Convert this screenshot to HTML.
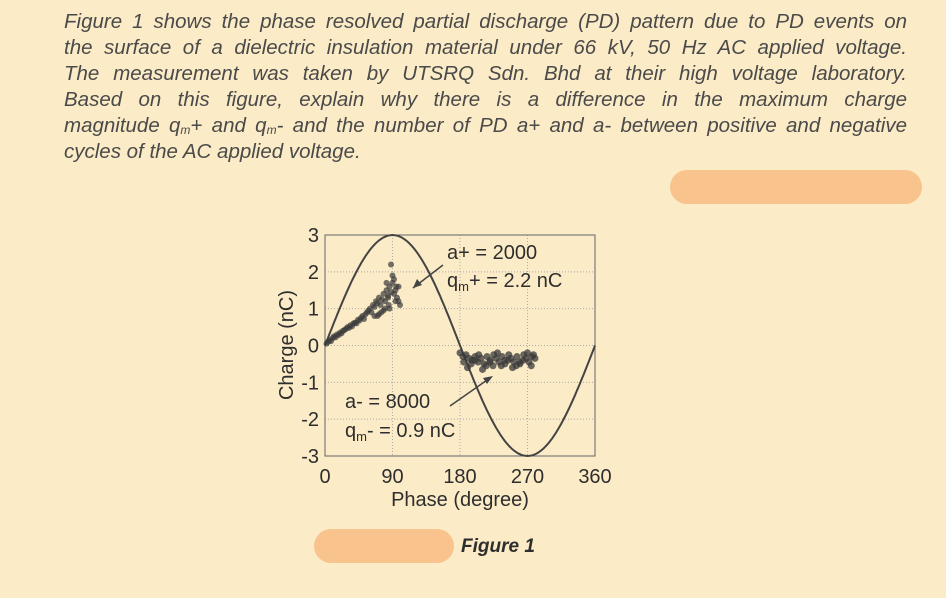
<!DOCTYPE html>
<html><head><meta charset="utf-8"><style>
body{margin:0;width:946px;height:598px;background:#fbebc6;overflow:hidden;position:relative;font-family:"Liberation Sans",sans-serif}
#q{position:absolute;left:64px;top:9px;width:843px;font-style:italic;font-size:20.5px;line-height:26px;color:#4a4a4a}
#q div{text-align:justify;text-align-last:justify;height:26px;white-space:nowrap}
#q div.last{text-align-last:left}
#q sub{font-size:12px;line-height:0;position:relative;top:2px;vertical-align:baseline}
.blob{position:absolute;background:#f8c38c;border-radius:18px}
svg{position:absolute;left:0;top:0}
</style></head><body>
<div id="q">
<div>Figure 1 shows the phase resolved partial discharge (PD) pattern due to PD events on</div>
<div>the surface of a dielectric insulation material under 66 kV, 50 Hz AC applied voltage.</div>
<div>The measurement was taken by UTSRQ Sdn. Bhd at their high voltage laboratory.</div>
<div>Based on this figure, explain why there is a difference in the maximum charge</div>
<div>magnitude q<sub>m</sub>+ and q<sub>m</sub>- and the number of PD a+ and a- between positive and negative</div>
<div class="last">cycles of the AC applied voltage.</div>
</div>
<div class="blob" style="left:670px;top:170px;width:252px;height:34px"></div>
<div class="blob" style="left:314px;top:529px;width:140px;height:34px"></div>
<svg id="c" width="946" height="598" font-family="Liberation Sans, sans-serif" fill="#2e2e2e"></svg>
<script>
const xTicks=[0,90,180,270,360];
const yTicks=[-3,-2,-1,0,1,2,3];
const posPhase=[2,4,6,8,10,12,14,16,18,20,22,24,26,28,30,32,34,36,38,40,42,44,46,48,50,52,54,56,58,60,62,64,66,68,70,72,74,76,78,80,82,84,86,88,90,92,94,96,98,100,70,75,80,85,90,95,88,92,84,78,72,66,82,86,94,98];
const posCharge=[0.05,0.1,0.15,0.12,0.2,0.25,0.22,0.3,0.28,0.35,0.33,0.4,0.42,0.45,0.5,0.48,0.55,0.52,0.6,0.62,0.6,0.7,0.68,0.75,0.8,0.72,0.85,0.9,0.95,1.0,0.9,1.1,1.05,1.2,1.15,1.3,1.1,1.25,1.4,1.2,1.5,1.3,1.6,1.45,1.7,1.4,1.5,1.3,1.2,1.1,0.8,0.9,1.0,1.1,1.9,1.6,2.2,1.8,1.35,0.95,0.85,0.8,1.7,1.0,1.2,1.6];
const negPhase=[180,184,188,192,196,200,204,208,212,216,220,224,228,232,236,240,244,248,252,256,260,264,268,272,276,280,185,195,205,215,225,235,245,255,265,275,190,210,230,250,270,200,220,240,260,278];
const negCharge=[-0.2,-0.3,-0.25,-0.35,-0.4,-0.3,-0.45,-0.35,-0.5,-0.3,-0.4,-0.55,-0.35,-0.45,-0.3,-0.5,-0.4,-0.35,-0.45,-0.3,-0.5,-0.4,-0.35,-0.45,-0.3,-0.35,-0.45,-0.5,-0.25,-0.55,-0.25,-0.55,-0.25,-0.55,-0.25,-0.55,-0.6,-0.65,-0.2,-0.6,-0.2,-0.4,-0.45,-0.4,-0.45,-0.25];
const X0=325,X1=595,YT=235,YB=456;
const sx=p=>X0+(p/360)*(X1-X0), sy=v=>YB-((v+3)/6)*(YB-YT);
const svg=document.getElementById('c'),NS='http://www.w3.org/2000/svg';
function mk(t,a,p){const e=document.createElementNS(NS,t);for(const k in a)e.setAttribute(k,a[k]);(p||svg).appendChild(e);return e;}
const grid=mk('g',{});


xTicks.forEach(t=>{if(t>0&&t<360)mk('line',{x1:sx(t),x2:sx(t),y1:YT,y2:YB,stroke:'#aaa','stroke-dasharray':'1,2'},grid);
 const l=mk('text',{x:sx(t),y:YB+27,'text-anchor':'middle','font-size':20});l.textContent=t;
 
 });
yTicks.forEach(t=>{if(t>-3&&t<3)mk('line',{x1:X0,x2:X1,y1:sy(t),y2:sy(t),stroke:'#aaa','stroke-dasharray':'1,2'},grid);
 const l=mk('text',{x:X0-6,y:sy(t)+7,'text-anchor':'end','font-size':20});l.textContent=t;
 
 });
const fr=mk('rect',{x:X0,y:YT,width:X1-X0,height:YB-YT,fill:'none',stroke:'#666'});


let d='';for(let p=0;p<=360;p+=3)d+=(p?'L':'M')+sx(p).toFixed(1)+','+sy(3*Math.sin(p*Math.PI/180)).toFixed(1);
const sine=mk('path',{d,fill:'none',stroke:'#444','stroke-width':2});


posPhase.forEach((p,i)=>{const c=mk('circle',{cx:sx(p),cy:sy(posCharge[i]),r:3,fill:'#3a3a3a','fill-opacity':0.7});
 
 });
negPhase.forEach((p,i)=>{const c=mk('circle',{cx:sx(p),cy:sy(negCharge[i]),r:3.5,fill:'#3a3a3a','fill-opacity':0.75});
 
 });
function txt(x,y,s,n,fs){const t=mk('text',{x,y,'font-size':fs||20});t.innerHTML=s;return t;}
txt(447,259,'a+ = 2000','annotation-a-plus');
txt(447,287,'q<tspan font-size="13" dy="4">m</tspan><tspan dy="-4">+ = 2.2 nC</tspan>','annotation-qm-plus');
txt(345,408,'a- = 8000','annotation-a-minus');
txt(345,437,'q<tspan font-size="13" dy="4">m</tspan><tspan dy="-4">- = 0.9 nC</tspan>','annotation-qm-minus');
mk('line',{x1:443,y1:265,x2:413,y2:288,stroke:'#444','stroke-width':1.5});
mk('path',{d:'M413,288 l4,-9 l5,6 z',fill:'#444'});
mk('line',{x1:450,y1:406,x2:490,y2:378,stroke:'#444','stroke-width':1.5});
mk('path',{d:'M493,376 l-10,2 l4,6 z',fill:'#444'});
const xl=txt(460,506,'Phase (degree)','x-axis-title');xl.setAttribute('text-anchor','middle');
const yl=txt(0,0,'Charge (nC)','y-axis-title');yl.setAttribute('text-anchor','middle');yl.setAttribute('transform','translate(293,345) rotate(-90)');
const fc=txt(498,552,'Figure 1','figure-caption',19);fc.setAttribute('text-anchor','middle');fc.setAttribute('font-style','italic');fc.setAttribute('font-weight','bold');
</script>
</body></html>
